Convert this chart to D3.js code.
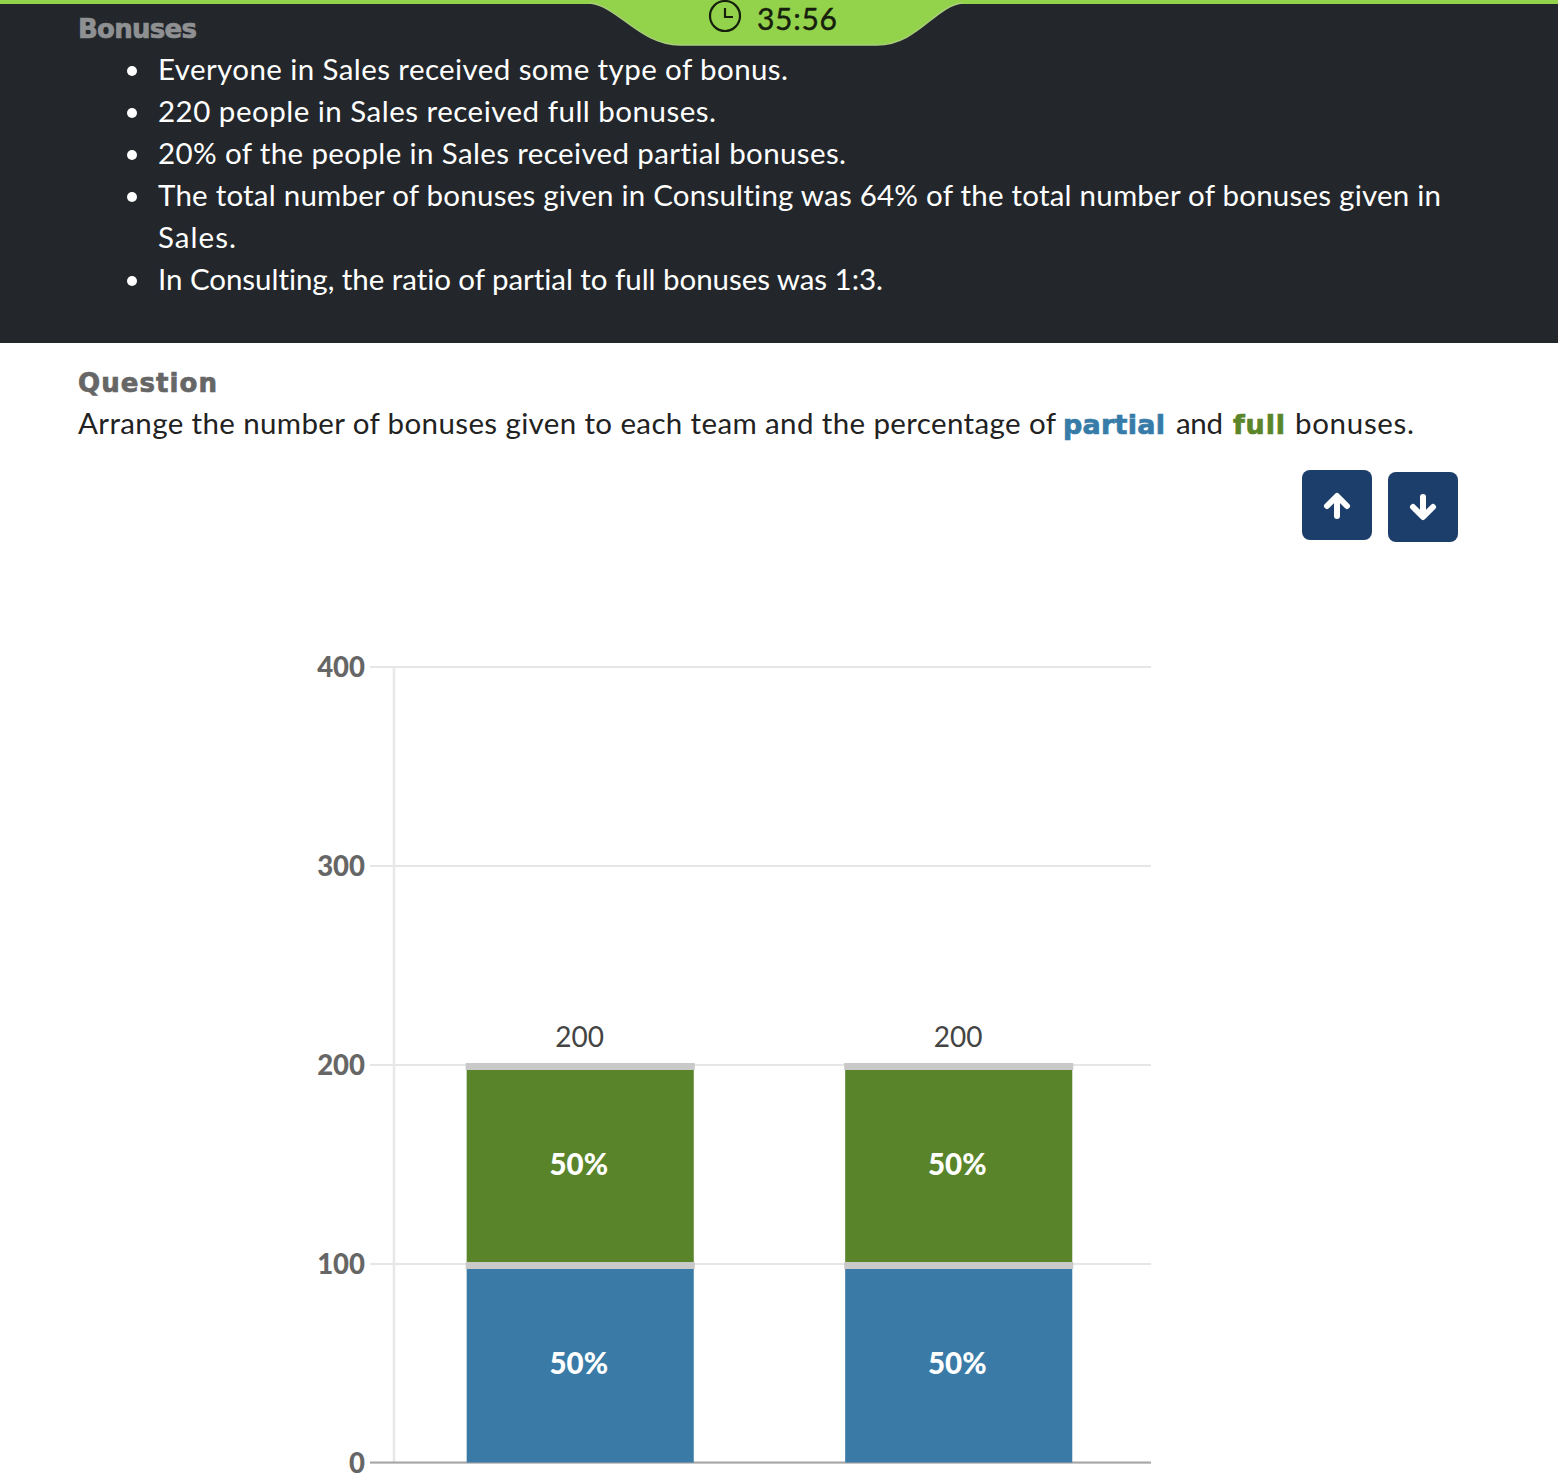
<!DOCTYPE html>
<html>
<head>
<meta charset="utf-8">
<script src="https://cdnjs.cloudflare.com/ajax/libs/d3/7.8.5/d3.min.js"></script>
<style>
html, body { margin: 0; padding: 0; background: #fff; overflow: hidden; }
svg { display: block; }
text { font-family: Lato, sans-serif; font-variant-ligatures: none; }
.heavy { font-family: "DejaVu Sans", sans-serif; font-weight: 700; stroke-width: 0.7px; }
</style>
</head>
<body>
<svg id="page" width="1558" height="1484"></svg>
<script>
const teams = ["Team 1", "Team 2"];
const partialBonuses = [100, 100];
const fullBonuses = [100, 100];
const partialLabels = ["50%", "50%"];
const fullLabels = ["50%", "50%"];
const yTicks = [0, 100, 200, 300, 400];

const bullets = [
    ["Everyone in Sales received some type of bonus."],
    ["220 people in Sales received full bonuses."],
    ["20% of the people in Sales received partial bonuses."],
    ["The total number of bonuses given in Consulting was 64% of the total number of bonuses given in", "Sales."],
    ["In Consulting, the ratio of partial to full bonuses was 1:3."]
];

const svg = d3.select("#page");
const textSize = 29.5;

// the original face is a little wider than Lato, so each line is fitted to its measured width
const fit = (selection, width) => selection.attr("textLength", width).attr("lengthAdjust", "spacing");

const drawHeader = () => {
    const lineWidths = [630, 558, 688, 1283, 78, 725];
    const tabEdge = "M590,3 C618,6 640,45 680,45 L877,45 C917,45 935,6 962,3";

    svg.append("rect").attr("width", 1558).attr("height", 343).attr("fill", "#23272b");
    svg.append("rect").attr("width", 1558).attr("height", 4).attr("fill", "#93d24b");
    svg.append("path").attr("d", tabEdge + " V0 H590 Z").attr("fill", "#93d24b");
    svg.append("path").attr("d", tabEdge)
        .attr("fill", "none").attr("stroke", "#a9cf7c").attr("stroke-width", 1.5);

    // clock
    svg.append("circle").attr("cx", 725).attr("cy", 16).attr("r", 15)
        .attr("fill", "none").attr("stroke", "#16200c").attr("stroke-width", 2.2);
    svg.append("path").attr("d", "M725,8 V17 H733")
        .attr("fill", "none").attr("stroke", "#16200c").attr("stroke-width", 2.2);
    svg.append("text").attr("x", 757).attr("y", 30).text("35:56").call(fit, 80)
        .style("font-size", "30px").style("fill", "#16200c").style("stroke", "#16200c").style("stroke-width", "0.4px");

    svg.append("text").attr("class", "heavy").attr("x", 78).attr("y", 38).text("Bonuses").call(fit, 119)
        .style("font-size", "26px").style("fill", "#8e9092").style("stroke", "#8e9092");

    let lineY = 80;
    let lineIndex = 0;
    bullets.forEach(lines => {
        svg.append("circle").attr("cx", 132).attr("cy", lineY - 9).attr("r", 5).attr("fill", "#fff");
        lines.forEach(line => {
            svg.append("text").attr("x", 158).attr("y", lineY).text(line).call(fit, lineWidths[lineIndex])
                .style("font-size", textSize + "px").style("fill", "#fff");
            lineY += 42;
            lineIndex += 1;
        });
    });
}

const drawQuestion = () => {
    svg.append("text").attr("class", "heavy").attr("x", 78).attr("y", 392).text("Question").call(fit, 139)
        .style("font-size", "26px").style("fill", "#666").style("stroke", "#666");

    const pieces = [
        { text: "Arrange the number of bonuses given to each team and the percentage of", x: 78, width: 978, color: "#222" },
        { text: "partial", x: 1063, width: 102, color: "#377ba8", heavy: true },
        { text: "and", x: 1176, width: 47, color: "#222" },
        { text: "full", x: 1233, width: 52, color: "#5a852a", heavy: true },
        { text: "bonuses.", x: 1295, width: 119, color: "#222" }
    ];
    pieces.forEach(p => {
        svg.append("text").attr("class", p.heavy ? "heavy" : null).attr("x", p.x).attr("y", 434).text(p.text).call(fit, p.width)
            .style("font-size", p.heavy ? "27px" : textSize + "px").style("fill", p.color).style("stroke", p.heavy ? p.color : "none");
    });
}

const drawButton = (x, y, points) => {
    svg.append("rect").attr("x", x).attr("y", y).attr("width", 70).attr("height", 70).attr("rx", 8).attr("fill", "#1c3e6b");
    svg.append("path").attr("d", points)
        .attr("fill", "none").attr("stroke", "#fff").attr("stroke-width", 6)
        .attr("stroke-linecap", "round").attr("stroke-linejoin", "round");
}

const drawChart = () => {
    const left = 394, right = 1151, top = 666.5, bottom = 1462.5;
    const x = d3.scaleBand().domain(teams).range([left, right]).paddingInner(0.4).paddingOuter(0.2).align(0.48);
    const y = d3.scaleLinear().domain([0, 400]).range([bottom, top]);

    const yAxis = svg.append("g").attr("transform", `translate(${left},0)`)
        .call(d3.axisLeft(y).tickValues(yTicks).tickSize(24).tickPadding(5));
    yAxis.select(".domain").remove();
    yAxis.selectAll(".tick line").attr("stroke", "#e6e6e6").attr("stroke-width", 2)
        .attr("x2", -24).attr("x1", right - left);
    yAxis.selectAll(".tick text")
        .attr("y", 0.7)
        .style("font-family", "Lato, sans-serif").style("font-size", "27.500px").style("font-weight", 900).style("fill", "#666");

    svg.append("line").attr("x1", left).attr("x2", left).attr("y1", top).attr("y2", bottom)
        .attr("stroke", "#e8e8e8").attr("stroke-width", 2.5);
    svg.append("line").attr("x1", left - 24).attr("x2", right).attr("y1", y(0)).attr("y2", y(0))
        .attr("stroke", "#a6a6a6").attr("stroke-width", 2);

    const rows = teams.map((team, i) => ({ team, partial: partialBonuses[i], full: fullBonuses[i], i }));
    const stacked = d3.stack().keys(["partial", "full"])(rows);
    const colors = { partial: "#397ba6", full: "#5a842a" };
    const labels = { partial: partialLabels, full: fullLabels };

    stacked.forEach(layer => {
        svg.append("g").selectAll("rect").data(layer).join("rect")
            .attr("x", d => x(d.data.team))
            .attr("y", d => y(d[1]))
            .attr("width", x.bandwidth())
            .attr("height", d => y(d[0]) - y(d[1]))
            .attr("fill", colors[layer.key]);
    });

    stacked.forEach(layer => {
        const group = svg.append("g");
        group.selectAll("rect").data(layer).join("rect")
            .attr("x", d => x(d.data.team) - 1)
            .attr("y", d => y(d[1]) - 1.5)
            .attr("width", x.bandwidth() + 2)
            .attr("height", 7)
            .attr("fill", "#c9c9c9");
        group.selectAll("text").data(layer).join("text")
            .attr("x", d => x(d.data.team) + x.bandwidth() / 2 - 1.5)
            .attr("y", d => (y(d[0]) + y(d[1])) / 2 + 10.5)
            .attr("text-anchor", "middle")
            .text(d => labels[layer.key][d.data.i])
            .style("font-size", "29.5px").style("font-weight", 900).style("fill", "#fff");
    });

    svg.append("g").selectAll("text").data(rows).join("text")
        .attr("x", d => x(d.team) + x.bandwidth() / 2 - 0.5)
        .attr("y", d => y(d.partial + d.full) - 17.5)
        .attr("text-anchor", "middle")
        .text(d => d.partial + d.full)
        .style("font-size", "28px").style("fill", "#444");
}

drawHeader();
drawQuestion();
drawButton(1302, 470, "M1337,516 V497 M1327,506 L1337,496 L1347,506");
drawButton(1388, 472, "M1423,497 V516 M1413,507 L1423,517 L1433,507");
drawChart();
</script>
</body>
</html>
